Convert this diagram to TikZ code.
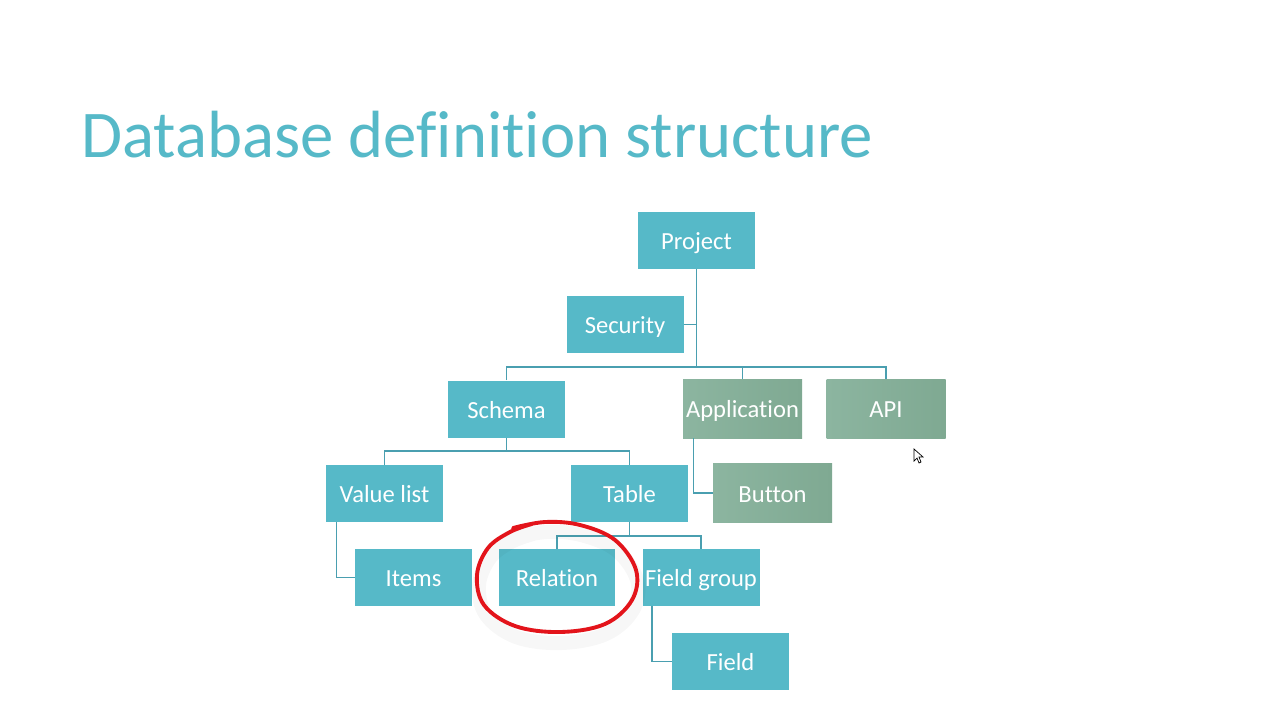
\documentclass[tikz,border=0pt]{standalone}
\usepackage{fontspec}
\setmainfont{Carlito}[Ligatures=NoCommon]
\usepackage{xcolor}
\usetikzlibrary{calc}

\definecolor{boxteal}{HTML}{56B9C8}
\definecolor{linkteal}{HTML}{4A9FB0}
\definecolor{appgreen}{HTML}{8CB5A0}
\definecolor{appgreendark}{HTML}{7FA992}
\definecolor{markred}{HTML}{E3141B}

\tikzset{
    entity/.style={fill=boxteal, text=white, inner sep=0pt,
        minimum width=2.34cm, minimum height=1.14cm,
        text height=11.5pt, text depth=1pt,
        font=\fontsize{14}{16}\selectfont},
    appentity/.style={entity, fill=none, shading=axis, shading angle=135,
        left color=appgreen, right color=appgreendark,
        minimum width=2.38cm, minimum height=1.18cm},
    link/.style={linkteal, line width=0.8pt}
}

\begin{document}
\begin{tikzpicture}[x=0.02cm, y=-0.02cm]
        \useasboundingbox[fill=white] (0,0) rectangle (1280,720);

        \node[anchor=base west, text=boxteal, inner sep=0pt,
            font=\fontsize{38}{42}\selectfont] (title) at (81,157) {Database definition structure};

        \node[entity] (project) at (696.5,240.5) {Project};
        \node[entity] (security) at (625,324.5) {Security};
        \node[entity] (schema) at (506.5,409) {Schema};
        \node[appentity] (application) at (742.5,408.5) {Application};
        \node[appentity] (api) at (886,408.5) {API};
        \node[entity] (valuelist) at (384.5,493.5) {Value list};
        \node[entity] (table) at (629.5,493.5) {Table};
        \node[appentity] (button) at (772.5,493) {Button};
        \node[entity] (items) at (413.5,577.5) {Items};
        \node[entity] (relation) at (557,577.5) {Relation};
        \node[entity] (fieldgroup) at (701,577.5) {Field group};
        \node[entity] (field) at (730.5,661.5) {Field};

        \coordinate (busA) at (0,367);
        \coordinate (busB) at (0,451);
        \coordinate (busC) at (0,536);

        % project level
        \draw[link] (project.south) -- (project.south |- busA);
        \draw[link] (security.east) -- (security.east -| project.south);
        \draw[link] (schema.north) |- (busA -| api.north) -- (api.north);
        \draw[link] (application.north) -- (application.north |- busA);

        % schema level
        \draw[link] (schema.south) -- (schema.south |- busB);
        \draw[link] (valuelist.north) |- (busB -| table.north) -- (table.north);
        \draw[link] ($(valuelist.south west)+(11,0)$) |- (items.west);
        \draw[link] ($(application.south west)+(11,0)$) |- (button.west);

        % table level
        \draw[link] (table.south) -- (table.south |- busC);
        \draw[link] (relation.north) |- (busC -| fieldgroup.north) -- (fieldgroup.north);
        \draw[link] ($(fieldgroup.south west)+(10,0)$) |- (field.west);

        % hand drawn mark
        \draw[black, opacity=0.03, line width=8pt, line cap=round, line join=round]
            plot[smooth, tension=0.6] coordinates {(514,538) (546,532) (581,535) (616,550) (637,580)
            (633,610) (606,634) (561,643) (516,637) (486,615) (479,585) (490,558) (511,542) (533,534)};
        \draw[markred, line width=2.2pt, line cap=round, line join=round]
            plot[smooth, tension=0.6] coordinates {(513,528) (545,522) (580,525) (615,540) (636,570)
            (632,600) (605,624) (560,632) (515,626) (484,605) (477,575) (488,548) (510,532) (532,524)};

        % cursor
        \draw[fill=white, line width=0.4pt] (914,449) -- (914,461) -- (917,458) -- (919,463)
            -- (921,462) -- (919,457) -- (923,457) -- cycle;
\end{tikzpicture}
\end{document}
